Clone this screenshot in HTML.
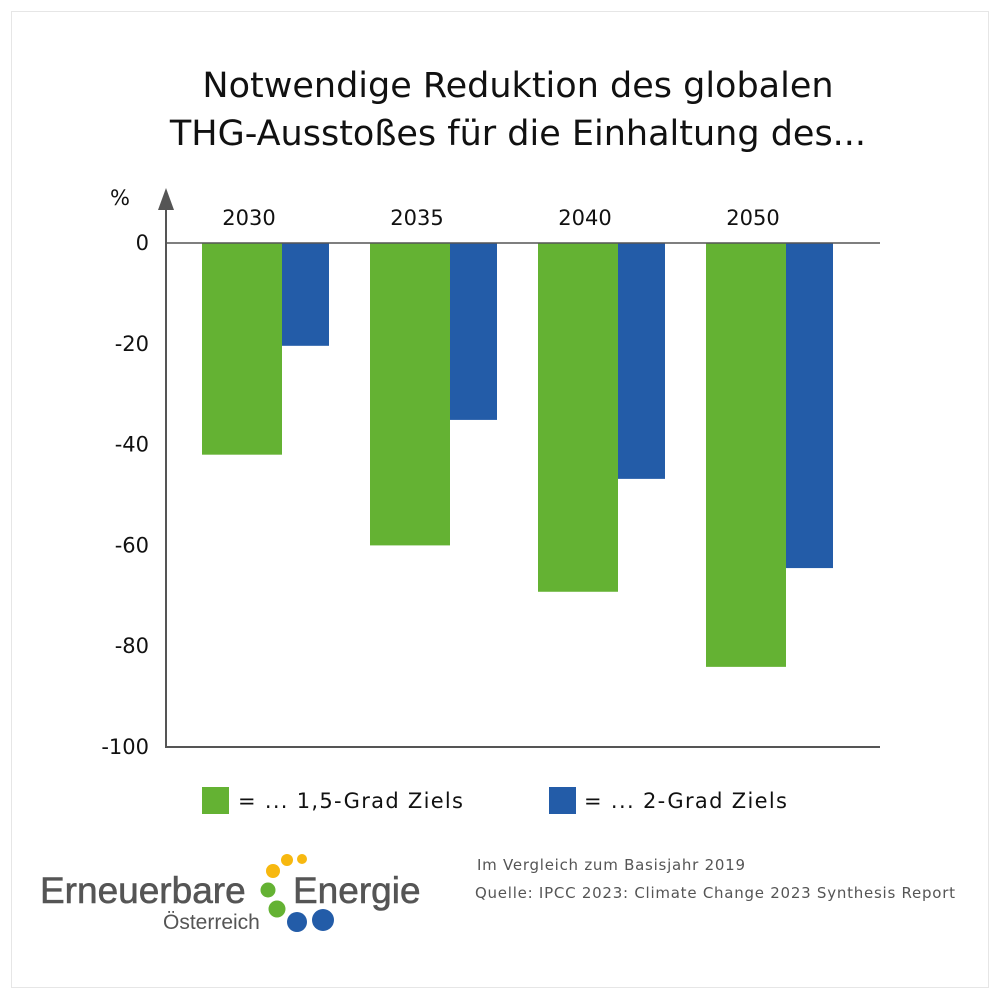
<!DOCTYPE html>
<html><head><meta charset="utf-8"><style>
body{margin:0;background:#fff}
svg{display:block;font-family:"DejaVu Sans","Liberation Sans",sans-serif}
</style></head><body>
<svg id="c" width="1000" height="999" viewBox="0 0 1000 999">
<rect x="11.5" y="11.5" width="977" height="976" fill="#fff" stroke="#e6e6e6"/>
<text x="518" y="97" font-size="35" text-anchor="middle" fill="#111">Notwendige Reduktion des globalen</text>
<text x="518" y="145" font-size="35" text-anchor="middle" fill="#111">THG-Ausstoßes für die Einhaltung des...</text>
<text x="120" y="205" font-size="21" text-anchor="middle" fill="#111">%</text>
<g id="bars"></g>
<g id="yt"></g>
<g id="xl"></g>
<line x1="166" y1="200" x2="166" y2="747" stroke="#555" stroke-width="2"/>
<polygon points="166,188 158,210 174,210" fill="#555"/>
<line x1="165" y1="747" x2="880" y2="747" stroke="#555" stroke-width="2"/>
<line x1="166" y1="243" x2="880" y2="243" stroke="#555" stroke-width="1.5"/>
<rect x="202" y="787" width="27" height="27" fill="#64b233"/>
<text x="238" y="808" font-size="21" fill="#111" textLength="225" lengthAdjust="spacing">= ... 1,5-Grad Ziels</text>
<rect x="549" y="787" width="27" height="27" fill="#235ca8"/>
<text x="584" y="808" font-size="21" fill="#111" textLength="203" lengthAdjust="spacing">= ... 2-Grad Ziels</text>
<text x="477" y="870" font-size="15" fill="#555" textLength="268" lengthAdjust="spacing">Im Vergleich zum Basisjahr 2019</text>
<text x="475" y="898" font-size="15" fill="#555" textLength="480" lengthAdjust="spacing">Quelle: IPCC 2023: Climate Change 2023 Synthesis Report</text>
<g>
<text x="40" y="903" font-size="37" fill="#555" stroke="#555" stroke-width="0.6" font-family="Liberation Sans, sans-serif">Erneuerbare</text>
<text x="293" y="903" font-size="37" fill="#555" stroke="#555" stroke-width="0.6" font-family="Liberation Sans, sans-serif">Energie</text>
<text x="163" y="929" font-size="21" fill="#555" font-family="Liberation Sans, sans-serif">Österreich</text>
<circle cx="273" cy="871" r="7" fill="#f7b80f"/><circle cx="287" cy="860" r="6" fill="#f7b80f"/><circle cx="302" cy="859" r="5" fill="#f7b80f"/>
<circle cx="268" cy="890" r="7.5" fill="#64b233"/><circle cx="277" cy="909" r="8.5" fill="#64b233"/>
<circle cx="297" cy="922" r="10" fill="#235ca8"/><circle cx="323" cy="920" r="11" fill="#235ca8"/>
</g>
</svg>
<script>
const years=['2030','2035','2040','2050'];
const green=[-42,-60,-69.2,-84.1];
const blue=[-20.4,-35.1,-46.8,-64.5];
const ticks=[0,-20,-40,-60,-80,-100];
const NS='http://www.w3.org/2000/svg';
function yy(v){return 243+(-v)*5.04;}
const x0=v=>202+v*168;
function mk(t,a,p){const e=document.createElementNS(NS,t);for(const k in a)e.setAttribute(k,a[k]);document.getElementById(p).appendChild(e);return e;}
years.forEach((yr,i)=>{
 const g=mk('rect',{x:x0(i),y:243,width:80,height:yy(green[i])-243,fill:'#64b233'},'bars');
 
 
 const b=mk('rect',{x:x0(i)+80,y:243,width:47,height:yy(blue[i])-243,fill:'#235ca8'},'bars');
 
 
 const t=mk('text',{x:x0(i)+47,y:225,'font-size':21,'text-anchor':'middle',fill:'#111'},'xl');
 t.textContent=yr;
 
 
});
ticks.forEach(v=>{
 const t=mk('text',{x:149,y:yy(v)+7,'font-size':21,'text-anchor':'end',fill:'#111'},'yt');
 t.textContent=v;
 
 
});
</script>
</body></html>
